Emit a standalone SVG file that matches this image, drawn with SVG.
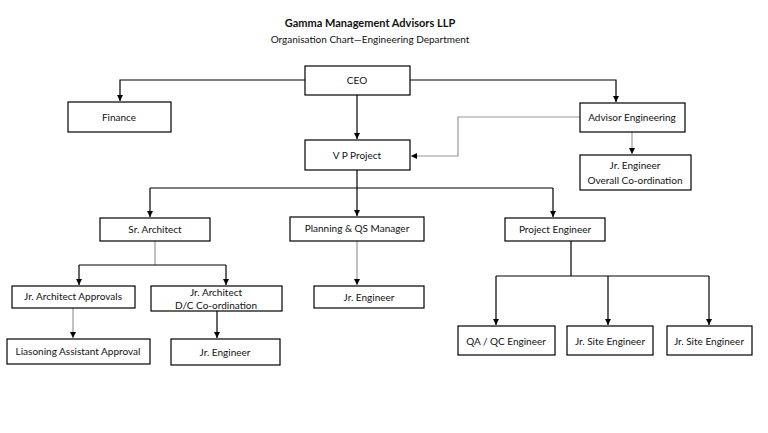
<svg xmlns="http://www.w3.org/2000/svg" width="768" height="433" viewBox="0 0 768 433">
<defs>
<marker id="ah" viewBox="0 0 6 6" refX="6" refY="3" markerWidth="6" markerHeight="6" orient="auto" markerUnits="userSpaceOnUse"><path d="M0,0 L6,3 L0,6 z" fill="#000"/></marker>
<style>
.b{fill:#fff;stroke:#000;stroke-width:1.2}
text{font-family:Lato,"Liberation Sans",sans-serif;font-size:10px;fill:#111;text-anchor:middle}
.c{fill:none;stroke:#000;stroke-width:1.2}
.g{fill:none;stroke:#999;stroke-width:1.2}
</style>
</defs>
<rect width="768" height="433" fill="#fff"/>
<text x="370" y="27" style="font-weight:bold;font-size:11px">Gamma Management Advisors LLP</text>
<text x="370" y="43">Organisation Chart—Engineering Department</text>
<g id="connectors">
<path class="c" d="M305,80 H120 V101" marker-end="url(#ah)"/>
<path class="c" d="M410,80 H616 V102" marker-end="url(#ah)"/>
<path class="c" d="M357,95 V139" marker-end="url(#ah)"/>
<path class="g" d="M580,117 H458 V156 H411" marker-end="url(#ah)"/>
<path class="g" d="M632,132 V154" marker-end="url(#ah)"/>
<path class="c" d="M357,170 V188 M150,188 H553"/>
<path class="c" d="M150,188 V217" marker-end="url(#ah)"/>
<path class="c" d="M357,188 V216" marker-end="url(#ah)"/>
<path class="c" d="M553,188 V217" marker-end="url(#ah)"/>
<path class="g" d="M155,241 V265"/>
<path class="c" d="M79,265 H226"/>
<path class="c" d="M79,265 V285" marker-end="url(#ah)"/>
<path class="c" d="M226,265 V285" marker-end="url(#ah)"/>
<path class="g" d="M73,308 V338" marker-end="url(#ah)"/>
<path class="c" d="M217,311 V338" marker-end="url(#ah)"/>
<path class="g" d="M357,241 V285" marker-end="url(#ah)"/>
<path class="c" d="M571,241 V276 M496,276 H709"/>
<path class="c" d="M496,276 V325" marker-end="url(#ah)"/>
<path class="c" d="M608,276 V325" marker-end="url(#ah)"/>
<path class="c" d="M709,276 V325" marker-end="url(#ah)"/>
</g>
<g id="ceo"><rect class="b" x="305" y="66" width="105" height="29"/><text x="357" y="84">CEO</text></g>
<g id="finance"><rect class="b" x="68" y="102" width="103" height="30"/><text x="119" y="121">Finance</text></g>
<g id="advisor"><rect class="b" x="580" y="103" width="105" height="29"/><text x="632" y="121">Advisor Engineering</text></g>
<g id="vp"><rect class="b" x="305" y="140" width="105" height="30"/><text x="357" y="159">V P Project</text></g>
<g id="jr-overall"><rect class="b" x="580" y="155" width="111" height="35"/><text x="635" y="169">Jr. Engineer</text><text x="635" y="184">Overall Co-ordination</text></g>
<g id="sr-arch"><rect class="b" x="100" y="218" width="110" height="23"/><text x="155" y="233">Sr. Architect</text></g>
<g id="planning"><rect class="b" x="290" y="217" width="134" height="24"/><text x="357" y="232">Planning &amp; QS Manager</text></g>
<g id="proj-eng"><rect class="b" x="505" y="218" width="100" height="23"/><text x="555" y="233">Project Engineer</text></g>
<g id="jr-arch-app"><rect class="b" x="12" y="286" width="123" height="22"/><text x="73" y="300">Jr. Architect Approvals</text></g>
<g id="jr-arch-dc"><rect class="b" x="151" y="286" width="131" height="25"/><text x="216" y="296">Jr. Architect</text><text x="216" y="309">D/C Co-ordination</text></g>
<g id="jr-eng-plan"><rect class="b" x="314" y="286" width="110" height="22"/><text x="369" y="301">Jr. Engineer</text></g>
<g id="liasoning"><rect class="b" x="7" y="339" width="143" height="25"/><text x="78" y="355">Liasoning Assistant Approval</text></g>
<g id="jr-eng-dc"><rect class="b" x="171" y="339" width="109" height="26"/><text x="225" y="356">Jr. Engineer</text></g>
<g id="qaqc"><rect class="b" x="458" y="326" width="97" height="29"/><text x="506" y="345">QA / QC Engineer</text></g>
<g id="site1"><rect class="b" x="567" y="326" width="86" height="29"/><text x="610" y="345">Jr. Site Engineer</text></g>
<g id="site2"><rect class="b" x="667" y="326" width="85" height="29"/><text x="709" y="345">Jr. Site Engineer</text></g>
</svg>
